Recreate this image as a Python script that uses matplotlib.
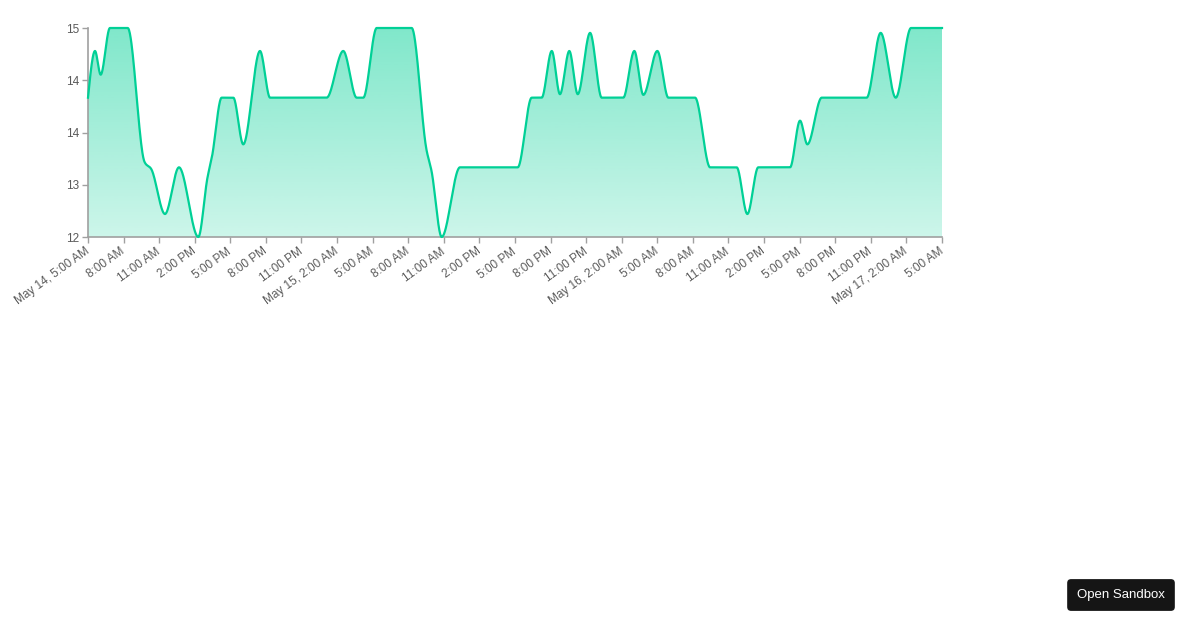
import numpy as np
import matplotlib
matplotlib.use("Agg")
import matplotlib.pyplot as plt
import matplotlib.dates as mdates
from matplotlib.ticker import FixedLocator, FuncFormatter

plt.rcParams['font.family'] = ['Liberation Sans', 'DejaVu Sans']

# readings: hours after May 14 05:00, value
start = np.datetime64('2024-05-14T05:00')
hours = [0.0, 0.59, 1.07, 1.85, 3.35, 4.76, 5.35, 6.49, 7.67, 9.30, 10.07,
         10.45, 11.27, 12.25, 13.09, 14.5, 15.35, 20.12, 21.52, 22.65, 23.21,
         24.34, 27.29, 28.54, 28.96, 29.82, 31.36, 36.23, 37.41, 38.25, 39.10,
         39.79, 40.58, 41.29, 42.33, 43.31, 45.13, 46.06, 46.82, 48.0, 48.93,
         51.18, 52.45, 54.69, 55.59, 56.51, 59.19, 60.03, 60.65, 61.86, 65.65,
         66.83, 68.1, 69.39, 72.0]
values = [14.0, 14.67, 14.33, 15.0, 15.0, 13.08, 12.97, 12.33, 13.0, 12.0, 12.85,
          13.15, 14.0, 14.0, 13.33, 14.67, 14.0, 14.0, 14.67, 14.0, 14.0,
          15.0, 15.0, 13.25, 12.95, 12.0, 13.0, 13.0, 14.0, 14.0, 14.67,
          14.05, 14.67, 14.05, 14.93, 14.0, 14.0, 14.67, 14.04, 14.67, 14.0,
          14.0, 13.0, 13.0, 12.33, 13.0, 13.0, 13.67, 13.33, 14.0, 14.0,
          14.93, 14.0, 15.0, 15.0]
ytick_vals = [12, 12.75, 13.5, 14.25, 15]
line_color = '#00d096'


def monotone(x, y, n=40):
    # monotone cubic (Steffen), like d3.curveMonotoneX
    x = np.asarray(x, float)
    y = np.asarray(y, float)
    h = np.diff(x)
    s = np.diff(y) / h
    t = np.zeros_like(y)
    for i in range(1, len(x) - 1):
        s0, s1 = s[i - 1], s[i]
        p = (s0 * h[i] + s1 * h[i - 1]) / (h[i - 1] + h[i])
        t[i] = (np.sign(s0) + np.sign(s1)) * min(abs(s0), abs(s1), 0.5 * abs(p))
    t[0] = (3 * s[0] - t[1]) / 2
    t[-1] = (3 * s[-1] - t[-2]) / 2
    xs, ys = [], []
    for i in range(len(x) - 1):
        u = np.linspace(0, 1, n, endpoint=False)
        h00 = 2 * u**3 - 3 * u**2 + 1
        h10 = u**3 - 2 * u**2 + u
        h01 = -2 * u**3 + 3 * u**2
        h11 = u**3 - u**2
        xs.append(x[i] + u * h[i])
        ys.append(h00 * y[i] + h10 * h[i] * t[i] + h01 * y[i + 1] + h11 * h[i] * t[i + 1])
    xs.append([x[-1]])
    ys.append([y[-1]])
    return np.concatenate(xs), np.concatenate(ys)


hx, hy = monotone(hours, values)
tx = start + (hx * 3600).astype('timedelta64[s]')

fig = plt.figure(figsize=(12, 6.3), dpi=100)
ax = fig.add_axes([88 / 1200, 1 - 237 / 630, (942 - 88) / 1200, (237 - 28) / 630])

# gradient fill under the line
poly = ax.fill_between(tx, hy, 12, color='none', lw=0)
xnum = mdates.date2num(tx)
grad = np.zeros((256, 1, 4))
grad[:, 0, :3] = matplotlib.colors.to_rgb(line_color)
grad[:, 0, 3] = np.linspace(0.5, 0.2, 256)
im = ax.imshow(grad, aspect='auto', extent=[xnum[0], xnum[-1], 12, 15],
               origin='upper', zorder=1)
im.set_clip_path(poly.get_paths()[0], transform=ax.transData)

ax.plot(tx, hy, color=line_color, lw=1.6, zorder=3, clip_on=False)

ax.set_xlim(xnum[0], xnum[-1])
ax.set_ylim(12, 15)

ticks = start + np.arange(0, 73, 3).astype('timedelta64[h]')
ax.xaxis.set_major_locator(FixedLocator(mdates.date2num(ticks)))


def fmt_time(v, pos):
    d = mdates.num2date(v)
    hr = d.hour % 12 or 12
    ap = 'AM' if d.hour < 12 else 'PM'
    s = f'{hr}:{d.minute:02d} {ap}'
    if pos == 0 or d.hour < 3:
        s = f"{d.strftime('%b')} {d.day}, " + s
    return s


ax.xaxis.set_major_formatter(FuncFormatter(fmt_time))
ax.yaxis.set_major_locator(FixedLocator(ytick_vals))
ax.yaxis.set_major_formatter(FuncFormatter(lambda v, p: f'{round(v + 1e-9):.0f}'))

for sp in ['top', 'right']:
    ax.spines[sp].set_visible(False)
for sp in ['left', 'bottom']:
    ax.spines[sp].set_color('#a0a0a0')
    ax.spines[sp].set_linewidth(1.2)
ax.tick_params(colors='#a0a0a0', labelcolor='#5a5a5a', length=4.5, width=1,
               labelsize=8.5, pad=2)
for lab in ax.get_xticklabels():
    lab.set_rotation(36)
    lab.set_ha('right')
    lab.set_va('center')
    lab.set_rotation_mode('anchor')
ax.tick_params(axis='x', pad=5)

fig.text(1121 / 1200, 1 - 595 / 630, 'Open Sandbox', color='white', fontsize=9.5,
         ha='center', va='center',
         bbox=dict(boxstyle='round,pad=0.75,rounding_size=0.3', fc='#151515', ec='none'))

fig.savefig('out.png', dpi=100)
